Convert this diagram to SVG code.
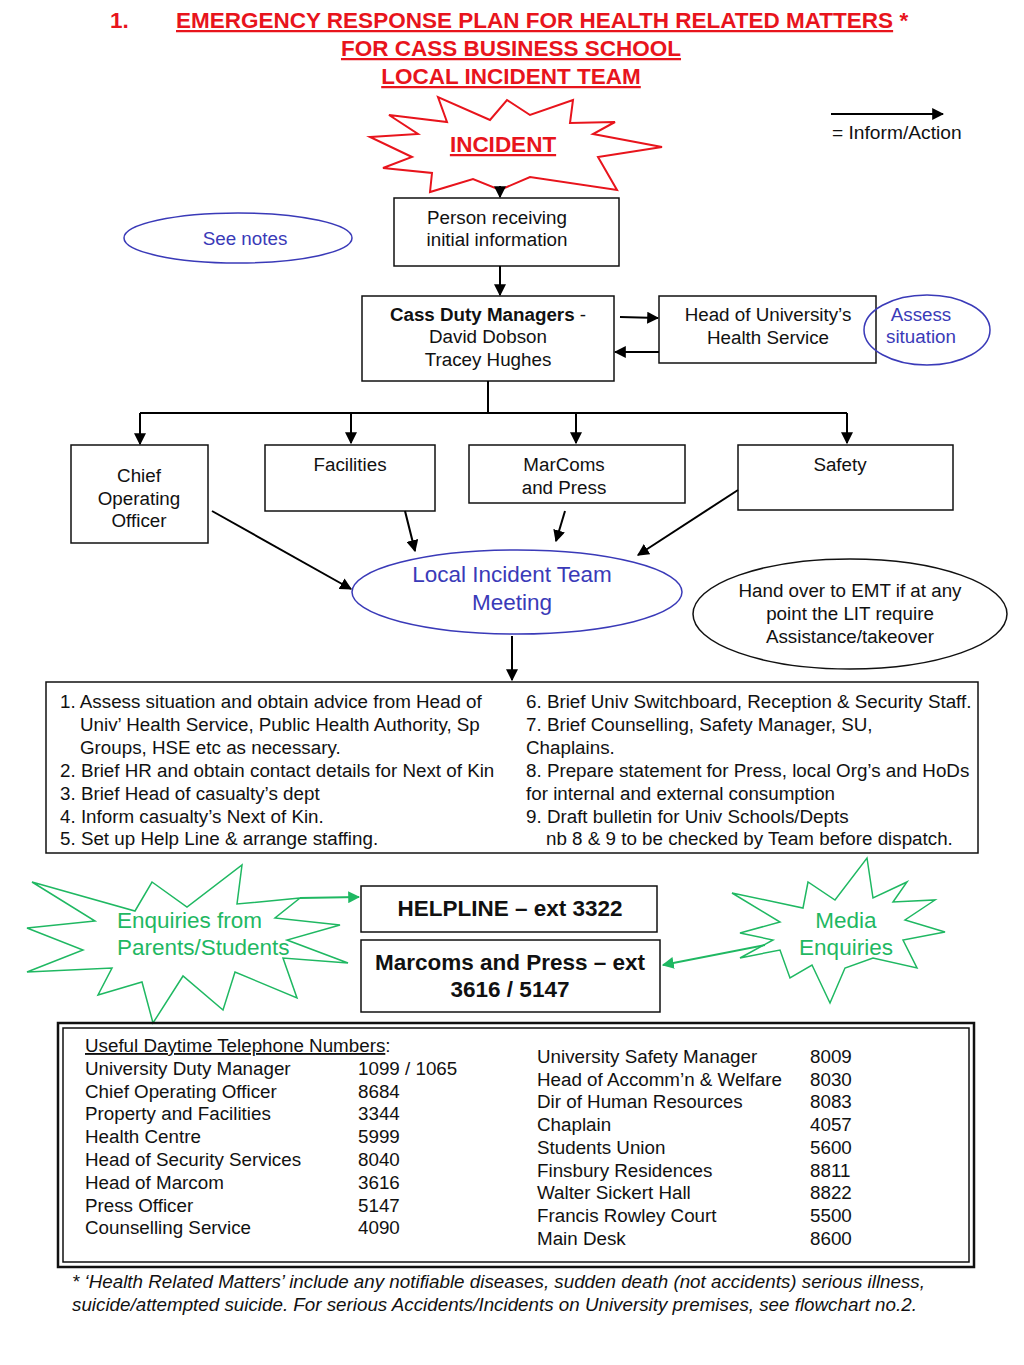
<svg xmlns="http://www.w3.org/2000/svg" width="1024" height="1365" viewBox="0 0 1024 1365">
<defs>
<style>
text{font-family:"Liberation Sans",Arial,sans-serif;font-size:18.8px;fill:#111}
.t{font-size:22.5px;font-weight:bold;fill:#e8141c;text-anchor:middle}
.c{text-anchor:middle}
.box{fill:#fff;stroke:#111;stroke-width:1.5}
.blue{fill:#3a3ab8}
.green{fill:#1fb862;font-size:22.5px}
.ln{stroke:#000;stroke-width:2;fill:none}
.gln{stroke:#1fb862;stroke-width:2;fill:none}
.u{text-decoration:underline}
.big{font-size:22.5px;font-weight:bold}
</style>
<marker id="ah" viewBox="0 0 10 10" refX="9" refY="5" markerWidth="6" markerHeight="6" orient="auto" markerUnits="strokeWidth"><path d="M0,0L10,5L0,10z" fill="#000"/></marker>
<marker id="gah" viewBox="0 0 10 10" refX="9" refY="5" markerWidth="6" markerHeight="6" orient="auto" markerUnits="strokeWidth"><path d="M0,0L10,5L0,10z" fill="#1fb862"/></marker>
</defs>
<rect width="1024" height="1365" fill="#fff"/>

<g id="title">
<text x="110" y="28" style="font-size:22.5px;font-weight:bold;fill:#e8141c">1.</text>
<text x="176" y="28" style="font-size:22.5px;font-weight:bold;fill:#e8141c"><tspan class="u">EMERGENCY RESPONSE PLAN FOR HEALTH RELATED MATTERS</tspan> *</text>
<text x="511" y="56" class="t"><tspan class="u">FOR CASS BUSINESS SCHOOL</tspan></text>
<text x="511" y="84" class="t"><tspan class="u">LOCAL INCIDENT TEAM</tspan></text>
</g>

<g id="legend">
<line x1="831" y1="114" x2="943" y2="114" class="ln" marker-end="url(#ah)"/>
<text x="832" y="139" style="font-size:19.2px">= Inform/Action</text>
</g>

<g id="incident">
<polygon points="370,137 418,134 389,115 447,122 438,97 490,120 507,100 530,115 573,100 570,123 615,122 593,134 662,147 598,157 617,190 530,177 500,190 473,179 430,192 432,173 383,168 412,157" fill="#fff" stroke="#e8141c" stroke-width="2"/>
<text x="503" y="152" class="t"><tspan class="u">INCIDENT</tspan></text>
</g>

<g id="see-notes">
<ellipse cx="238" cy="238" rx="114" ry="25" fill="none" stroke="#3a3ab8" stroke-width="1.5"/>
<text x="245" y="245" class="c blue">See notes</text>
</g>

<g id="person">
<rect x="394" y="198" width="225" height="68" class="box"/>
<text x="497" y="224" class="c">Person receiving</text>
<text x="497" y="246" class="c">initial information</text>
</g>

<g id="cass">
<rect x="362" y="296" width="252" height="85" class="box"/>
<text x="488" y="321" class="c"><tspan font-weight="bold">Cass Duty Managers</tspan> -</text>
<text x="488" y="343" class="c">David Dobson</text>
<text x="488" y="366" class="c">Tracey Hughes</text>
</g>

<g id="head-health">
<rect x="659" y="296" width="217" height="67" class="box"/>
<text x="768" y="321" class="c">Head of University’s</text>
<text x="768" y="344" class="c">Health Service</text>
</g>

<g id="assess">
<ellipse cx="927" cy="330" rx="63" ry="35" fill="none" stroke="#3a3ab8" stroke-width="1.5"/>
<text x="921" y="321" class="c blue">Assess</text>
<text x="921" y="343" class="c blue">situation</text>
</g>

<g id="coo">
<rect x="71" y="445" width="137" height="98" class="box"/>
<text x="139" y="482" class="c">Chief</text>
<text x="139" y="505" class="c">Operating</text>
<text x="139" y="527" class="c">Officer</text>
</g>
<g id="facilities">
<rect x="265" y="445" width="170" height="66" class="box"/>
<text x="350" y="471" class="c">Facilities</text>
</g>
<g id="marcoms">
<rect x="469" y="445" width="216" height="58" class="box"/>
<text x="564" y="471" class="c">MarComs</text>
<text x="564" y="494" class="c">and Press</text>
</g>
<g id="safety">
<rect x="738" y="445" width="215" height="65" class="box"/>
<text x="840" y="471" class="c">Safety</text>
</g>

<g id="lit">
<ellipse cx="517" cy="592" rx="165" ry="42" fill="#fff" stroke="#3a3ab8" stroke-width="1.5"/>
<text x="512" y="582" class="c blue" style="font-size:22.5px">Local Incident Team</text>
<text x="512" y="610" class="c blue" style="font-size:22.5px">Meeting</text>
</g>

<g id="handover">
<ellipse cx="850" cy="614" rx="157" ry="55" fill="#fff" stroke="#111" stroke-width="1.5"/>
<text x="850" y="597" class="c">Hand over to EMT if at any</text>
<text x="850" y="620" class="c">point the LIT require</text>
<text x="850" y="643" class="c">Assistance/takeover</text>
</g>

<g id="actions">
<rect x="46" y="682" width="932" height="171" class="box"/>
<text x="60" y="708">1. Assess situation and obtain advice from Head of</text>
<text x="80" y="731">Univ’ Health Service, Public Health Authority, Sp</text>
<text x="80" y="754">Groups, HSE etc as necessary.</text>
<text x="60" y="777">2. Brief HR and obtain contact details for Next of Kin</text>
<text x="60" y="800">3. Brief Head of casualty’s dept</text>
<text x="60" y="823">4. Inform casualty’s Next of Kin.</text>
<text x="60" y="845">5. Set up Help Line &amp; arrange staffing.</text>
<text x="526" y="708">6. Brief Univ Switchboard, Reception &amp; Security Staff.</text>
<text x="526" y="731">7. Brief Counselling, Safety Manager, SU,</text>
<text x="526" y="754">Chaplains.</text>
<text x="526" y="777">8. Prepare statement for Press, local Org’s and HoDs</text>
<text x="526" y="800">for internal and external consumption</text>
<text x="526" y="823">9. Draft bulletin for Univ Schools/Depts</text>
<text x="546" y="845">nb 8 &amp; 9 to be checked by Team before dispatch.</text>
</g>

<g id="enquiries">
<polygon points="32,882 135,911 152,882 187,907 242,865 237,904 300,898 275,918 340,925 287,940 348,963 283,958 297,998 235,972 223,1010 183,976 153,1023 142,982 98,995 112,968 27,972 83,950 27,928 95,921" fill="#fff" stroke="#1fb862" stroke-width="1.5"/>
<text x="117" y="928" class="green">Enquiries from</text>
<text x="117" y="955" class="green">Parents/Students</text>
</g>

<g id="helpline">
<rect x="361" y="886" width="296" height="46" class="box"/>
<text x="510" y="916" class="c big">HELPLINE – ext 3322</text>
</g>

<g id="marcoms-press">
<rect x="361" y="940" width="299" height="72" class="box"/>
<text x="510" y="970" class="c big">Marcoms and Press – ext</text>
<text x="510" y="997" class="c big">3616 / 5147</text>
</g>

<g id="media">
<polygon points="867,858 873,898 907,882 893,902 935,900 905,920 945,932 903,940 917,968 873,958 845,968 830,1003 812,965 790,978 780,950 740,958 773,940 740,933 780,922 732,893 803,908 808,882 835,900" fill="#fff" stroke="#1fb862" stroke-width="1.5"/>
<text x="846" y="928" class="green c">Media</text>
<text x="846" y="955" class="green c">Enquiries</text>
</g>

<g id="connectors">
<line x1="500" y1="186" x2="500" y2="197" class="ln" marker-end="url(#ah)"/>
<line x1="500" y1="266" x2="500" y2="295" class="ln" marker-end="url(#ah)"/>
<line x1="620" y1="317" x2="658" y2="318" class="ln" marker-end="url(#ah)"/>
<line x1="659" y1="352" x2="615" y2="352" class="ln" marker-end="url(#ah)"/>
<polyline points="488,381 488,413" class="ln"/>
<line x1="140" y1="413" x2="847" y2="413" class="ln"/>
<line x1="140" y1="413" x2="140" y2="444" class="ln" marker-end="url(#ah)"/>
<line x1="351" y1="413" x2="351" y2="443" class="ln" marker-end="url(#ah)"/>
<line x1="576" y1="413" x2="576" y2="443" class="ln" marker-end="url(#ah)"/>
<line x1="847" y1="413" x2="847" y2="443" class="ln" marker-end="url(#ah)"/>
<line x1="212" y1="511" x2="351" y2="589" class="ln" marker-end="url(#ah)"/>
<line x1="405" y1="511" x2="415" y2="551" class="ln" marker-end="url(#ah)"/>
<line x1="565" y1="511" x2="556" y2="541" class="ln" marker-end="url(#ah)"/>
<line x1="738" y1="490" x2="638" y2="555" class="ln" marker-end="url(#ah)"/>
<line x1="512" y1="636" x2="512" y2="680" class="ln" marker-end="url(#ah)"/>
<line x1="300" y1="898" x2="359" y2="897" class="gln" marker-end="url(#gah)"/>
<line x1="765" y1="945" x2="663" y2="965" class="gln" marker-end="url(#gah)"/>
</g>

<g id="phones">
<rect x="58" y="1023" width="916" height="244" fill="none" stroke="#111" stroke-width="2.5"/>
<rect x="63" y="1028" width="906" height="234" fill="none" stroke="#111" stroke-width="1.5"/>
<text x="85" y="1052"><tspan class="u">Useful Daytime Telephone Numbers</tspan>:</text>
<text x="85" y="1075">University Duty Manager</text><text x="358" y="1075">1099 / 1065</text>
<text x="85" y="1098">Chief Operating Officer</text><text x="358" y="1098">8684</text>
<text x="85" y="1120">Property and Facilities</text><text x="358" y="1120">3344</text>
<text x="85" y="1143">Health Centre</text><text x="358" y="1143">5999</text>
<text x="85" y="1166">Head of Security Services</text><text x="358" y="1166">8040</text>
<text x="85" y="1189">Head of Marcom</text><text x="358" y="1189">3616</text>
<text x="85" y="1212">Press Officer</text><text x="358" y="1212">5147</text>
<text x="85" y="1234">Counselling Service</text><text x="358" y="1234">4090</text>
<text x="537" y="1063">University Safety Manager</text><text x="810" y="1063">8009</text>
<text x="537" y="1086">Head of Accomm’n &amp; Welfare</text><text x="810" y="1086">8030</text>
<text x="537" y="1108">Dir of Human Resources</text><text x="810" y="1108">8083</text>
<text x="537" y="1131">Chaplain</text><text x="810" y="1131">4057</text>
<text x="537" y="1154">Students Union</text><text x="810" y="1154">5600</text>
<text x="537" y="1177">Finsbury Residences</text><text x="810" y="1177">8811</text>
<text x="537" y="1199">Walter Sickert Hall</text><text x="810" y="1199">8822</text>
<text x="537" y="1222">Francis Rowley Court</text><text x="810" y="1222">5500</text>
<text x="537" y="1245">Main Desk</text><text x="810" y="1245">8600</text>
</g>

<g id="footnote">
<text x="72" y="1288" font-style="italic">*  ‘Health Related Matters’ include any notifiable diseases, sudden death (not accidents) serious illness,</text>
<text x="72" y="1311" font-style="italic">suicide/attempted suicide. For serious Accidents/Incidents on University premises, see flowchart no.2.</text>
</g>
</svg>
